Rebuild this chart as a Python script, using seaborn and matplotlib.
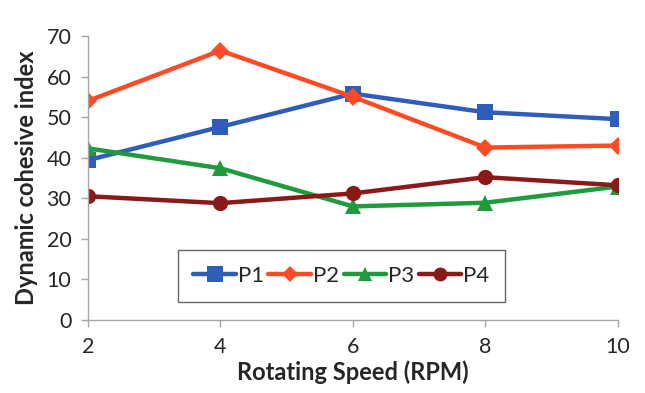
import numpy as np
import pandas as pd
import matplotlib
matplotlib.use("Agg")
import matplotlib.pyplot as plt
import seaborn as sns

# data
speeds = [2, 4, 6, 8, 10]
p1 = [39.4, 47.6, 55.8, 51.2, 49.5]
p2 = [54.0, 66.4, 55.0, 42.5, 43.0]
p3 = [42.3, 37.4, 28.0, 28.9, 32.9]
p4 = [30.5, 28.8, 31.2, 35.2, 33.2]
series_names = ["P1", "P2", "P3", "P4"]

df = pd.DataFrame({
    "speed": speeds * 4,
    "value": p1 + p2 + p3 + p4,
    "series": [s for s in series_names for _ in speeds],
})

sns.set_theme(style="white")
plt.rcParams["font.family"] = ["Lato", "DejaVu Sans"]

colors = {"P1": "#2F5DBA", "P2": "#FF4A26", "P3": "#1F9A3E", "P4": "#8A1A1A"}
markers = {"P1": "s", "P2": "D", "P3": "^", "P4": "o"}
msizes = {"P1": 12, "P2": 9, "P3": 11, "P4": 11}

fig = plt.figure(figsize=(6.45, 3.93), dpi=100)
ax = fig.add_axes([0.1364, 0.1858, 0.8216, 0.7226])

sns.lineplot(data=df, x="speed", y="value", hue="series", style="series",
             palette=colors, markers=markers, dashes=False, linewidth=3.2,
             markersize=11, markeredgewidth=0, ax=ax, legend=False)
for line, name in zip(ax.lines, series_names):
    line.set_markersize(msizes[name])

ax.set_xlim(2, 10)
ax.set_ylim(0, 70)
ax.set_xticks([2, 4, 6, 8, 10])
ax.set_yticks(range(0, 71, 10))
ax.set_xlabel("Rotating Speed (RPM)", fontsize=17, fontweight="bold", labelpad=3)
ax.set_ylabel("Dynamic cohesive index", fontsize=17, fontweight="bold", labelpad=6)
ax.tick_params(axis="both", labelsize=15.5, length=5, width=1, color="#A6A6A6",
               direction="out", pad=7)
ax.tick_params(axis="x", bottom=True)
ax.tick_params(axis="y", left=True)

for side in ["top", "right"]:
    ax.spines[side].set_visible(False)
for side in ["left", "bottom"]:
    ax.spines[side].set_color("#A6A6A6")
    ax.spines[side].set_linewidth(1)

handles = [plt.Line2D([], [], color=colors[n], marker=markers[n], lw=3.2,
                      markersize=msizes[n] - 1, markeredgewidth=0)
           for n in series_names]
leg = ax.legend(handles, series_names, loc="center",
                bbox_to_anchor=(0.478, 0.155),
                ncol=4, fontsize=16, frameon=True, fancybox=False,
                handlelength=1.9, handletextpad=0.1, columnspacing=0.2,
                borderpad=0.7, borderaxespad=0)
leg.get_frame().set_edgecolor("#404040")
leg.get_frame().set_linewidth(1)

fig.savefig("out.png", dpi=100)
